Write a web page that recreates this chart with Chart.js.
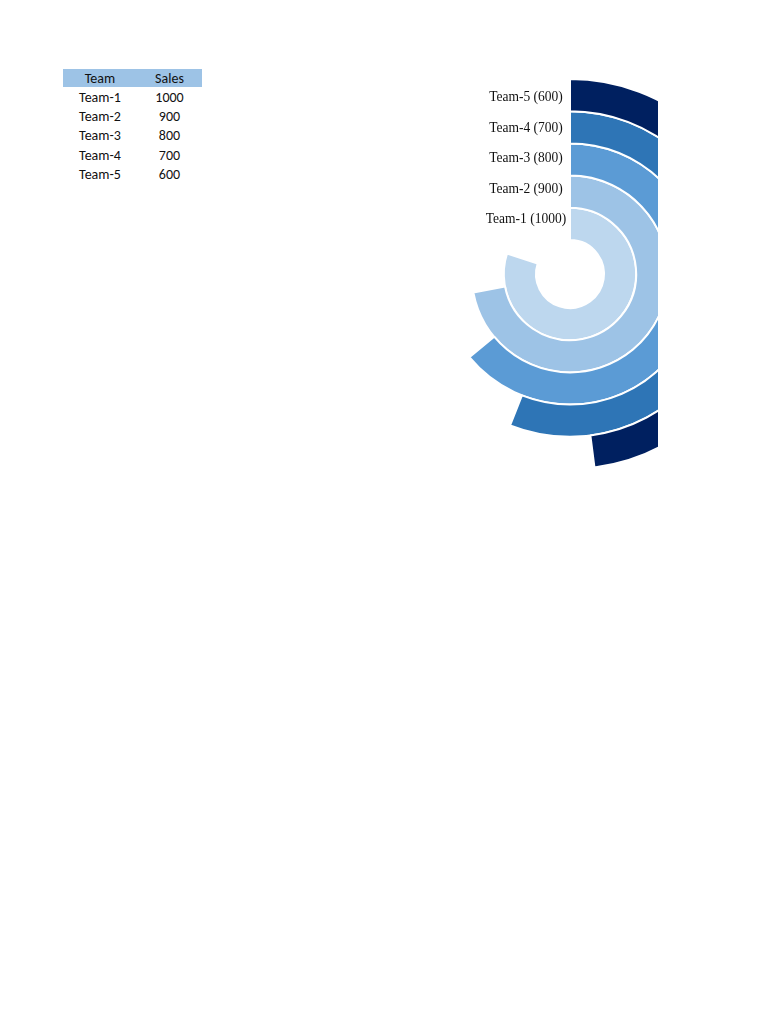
<!DOCTYPE html>
<html>
<head>
<meta charset="utf-8">
<script src="https://cdn.jsdelivr.net/npm/chart.js@4/dist/chart.umd.min.js"></script>
<style>
  html, body { margin: 0; padding: 0; background: #ffffff; width: 768px; height: 1024px; overflow: hidden; }
  #table {
    position: absolute; left: 63px; top: 69px;
    border-collapse: collapse;
    font-family: Carlito, Calibri, Lato, "Open Sans", sans-serif;
    font-size: 14px; color: #111111;
  }
  #table th { background: #9dc3e6; font-weight: normal; height: 18px; padding: 0; line-height: 18px; }
  #table td { height: 19.2px; padding: 0; line-height: 19px; text-align: center; }
  #table span { position: relative; top: 1px; }
  #table .c1 { width: 74px; text-align: center; }
  #table .c2 { width: 65px; text-align: center; }
  #clip { position: absolute; left: 0; top: 0; width: 658px; height: 1024px; overflow: hidden; }
  #chartBox { position: absolute; left: 350px; top: 54px; width: 440px; height: 440px; }
</style>
</head>
<body>
<table id="table"><thead><tr><th class="c1"><span>Team</span></th><th class="c2"><span>Sales</span></th></tr></thead><tbody id="tbody"></tbody></table>
<div id="clip"><div id="chartBox"><canvas id="c" width="440" height="440"></canvas></div></div>
<script>
// ---- data ----
const teams = ["Team-1", "Team-2", "Team-3", "Team-4", "Team-5"];
const sales = [1000, 900, 800, 700, 600];
const maxValue = 1250;
const ringColors = ["#bdd7ee", "#9dc3e6", "#5b9bd5", "#2e75b6", "#002060"];

// ---- table ----
const tbody = document.getElementById("tbody");
teams.forEach((t, i) => {
  const tr = document.createElement("tr");
  tr.innerHTML = '<td class="c1"><span>' + t + '</span></td><td class="c2"><span>' + sales[i] + '</span></td>';
  tbody.appendChild(tr);
});

// ---- chart: outermost ring first (Team-5) ----
const order = teams.map((_, i) => i).reverse();
const datasets = order.map(i => ({
  label: teams[i],
  data: [sales[i], maxValue - sales[i]],
  backgroundColor: [ringColors[i], "rgba(0,0,0,0)"],
  borderColor: ["#ffffff", "rgba(0,0,0,0)"],
  borderWidth: [2, 0],
  hoverOffset: 0,
  teamIndex: i
}));

const ringLabels = {
  id: "ringLabels",
  afterDatasetsDraw(chart) {
    const ctx = chart.ctx;
    chart.data.datasets.forEach((ds, d) => {
      const arc = chart.getDatasetMeta(d).data[0];
      const mid = (arc.innerRadius + arc.outerRadius) / 2;
      const i = ds.teamIndex;
      ctx.save();
      ctx.translate(arc.x - 44, arc.y - (mid * 0.95 + 7));
      ctx.scale(0.9, 1);
      ctx.font = '15px "Liberation Serif", "Times New Roman", serif';
      ctx.fillStyle = "#111111";
      ctx.textAlign = "center";
      ctx.textBaseline = "middle";
      ctx.fillText(teams[i] + " (" + sales[i] + ")", 0, 0);
      ctx.restore();
    });
  }
};

new Chart(document.getElementById("c"), {
  type: "doughnut",
  data: { labels: ["Sales", "Rest"], datasets },
  options: {
    responsive: false,
    animation: false,
    radius: 195,
    cutout: (34 / 195 * 100) + "%",
    rotation: 0,
    circumference: 360,
    plugins: { legend: { display: false }, tooltip: { enabled: false } },
    events: []
  },
  plugins: [ringLabels]
});
</script>
</body>
</html>
